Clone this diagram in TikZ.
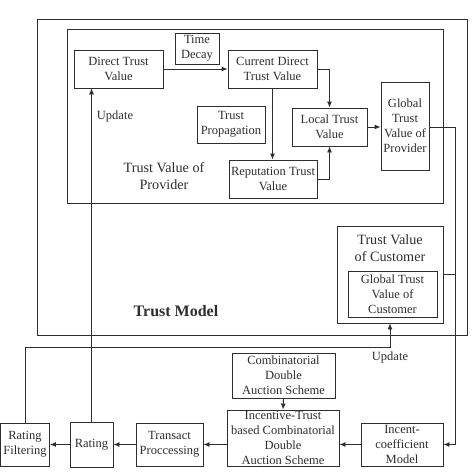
\documentclass[tikz,border=0pt]{standalone}
\usepackage{fontspec}
\setmainfont{Liberation Serif}
\usetikzlibrary{arrows.meta}
\definecolor{ink}{gray}{0.18}
\begin{document}
\begin{tikzpicture}[x=1pt,y=-1pt,
  box/.style={draw=ink,line width=0.9pt,inner sep=0pt,align=center,text=ink,
    font=\fontsize{12.5}{15}\selectfont},
  frame/.style={draw=ink,line width=0.9pt,inner sep=0pt},
  lbl/.style={inner sep=0pt,align=center,text=ink,font=\fontsize{12.5}{15}\selectfont},
  big/.style={inner sep=0pt,align=center,text=ink,font=\fontsize{14.2}{17}\selectfont},
  conn/.style={draw=ink,line width=0.9pt,-{Latex[length=6pt,width=5pt]}},
  thin/.style={draw=ink,line width=0.6pt,-{Latex[length=6pt,width=5pt]}},
  plain/.style={draw=ink,line width=0.9pt}]
\useasboundingbox (0,0) rectangle (474,474);
% frames
\node[frame,minimum width=430pt,minimum height=316pt] (model) at (252,177) {};
\node[frame,minimum width=376pt,minimum height=174pt] (provider) at (255,116) {};
\node[frame,minimum width=106pt,minimum height=97pt] (customer) at (390,274.5) {};
% provider boxes
\node[box,minimum width=89pt,minimum height=38pt] (direct) at (118.5,69) {Direct Trust\\Value};
\node[box,minimum width=44pt,minimum height=31pt] (decay) at (197,48.5) {Time\\Decay};
\node[box,minimum width=89pt,minimum height=38pt] (current) at (272.5,69) {Current Direct\\Trust Value};
\node[box,minimum width=68pt,minimum height=37pt] (prop) at (231,124.5) {Trust\\Propagation};
\node[box,minimum width=75pt,minimum height=38pt] (local) at (329.5,127) {Local Trust\\Value};
\node[box,minimum width=48pt,minimum height=88pt] (globalp) at (405,126) {Global\\Trust\\Value of\\Provider};
\node[box,minimum width=88pt,minimum height=38pt] (reput) at (273,179) {Reputation Trust\\Value};
% customer
\node[big] (custlbl) at (390,248.5) {Trust Value\\of Customer};
\node[box,minimum width=89pt,minimum height=46pt] (globalc) at (392.5,294) {Global Trust\\Value of\\Customer};
% labels
\node[lbl] (upd1) at (115,116) {Update};
\node[big] (provlbl) at (164,176.5) {Trust Value of\\Provider};
\node[inner sep=0pt,text=ink,font=\fontsize{16}{19}\selectfont\bfseries] (tmlbl) at (176,311) {Trust Model};
\node[lbl] (upd2) at (390,357) {Update};
% bottom row
\node[box,minimum width=49pt,minimum height=43pt] (ratingf) at (25,444.5) {Rating\\Filtering};
\node[box,minimum width=43pt,minimum height=45pt] (rating) at (91.5,444.5) {Rating};
\node[box,minimum width=67pt,minimum height=43pt] (transact) at (169.5,444.5) {Transact\\Proccessing};
\node[box,minimum width=112pt,minimum height=56pt] (incentive) at (283,438) {Incentive-Trust\\based Combinatorial\\Double\\Auction Scheme};
\node[box,minimum width=103pt,minimum height=45pt] (comb) at (283.5,375.5) {Combinatorial\\Double\\Auction Scheme};
\node[box,minimum width=82pt,minimum height=43pt] (incent) at (402,444.5) {Incent-\\coefficient\\Model};
% helper coordinates
\coordinate (bus) at (455,0);
\coordinate (ub) at (390,347);
% provider connectors
\draw[conn] (direct.east) -- (current.west);
\draw[conn] (current.east) -| (local.north);
\draw[conn] (current.south) -- (current.south |- reput.north);
\draw[conn] (reput.east) -| (local.south);
\draw[conn] (local.east) -- (local.east -| globalp.west);
\draw[conn] (globalp.east |- local.east) -- (local.east -| bus) |- (incent.east);
\draw[plain] (customer.east) -- (customer.east -| bus);
% bottom connectors
\draw[conn] (incent.west) -- (incent.west -| incentive.east);
\draw[conn] (transact.east -| incentive.west) -- (transact.east);
\draw[conn] (transact.west) -- (rating.east);
\draw[conn] (rating.west) -- (ratingf.east);
\draw[conn] (comb.south) -- (incentive.north);
\draw[thin] (rating.north) -- (rating.north |- direct.south);
\draw[thin] (ratingf.north) |- (ub) -- (customer.south);
\end{tikzpicture}
\end{document}
